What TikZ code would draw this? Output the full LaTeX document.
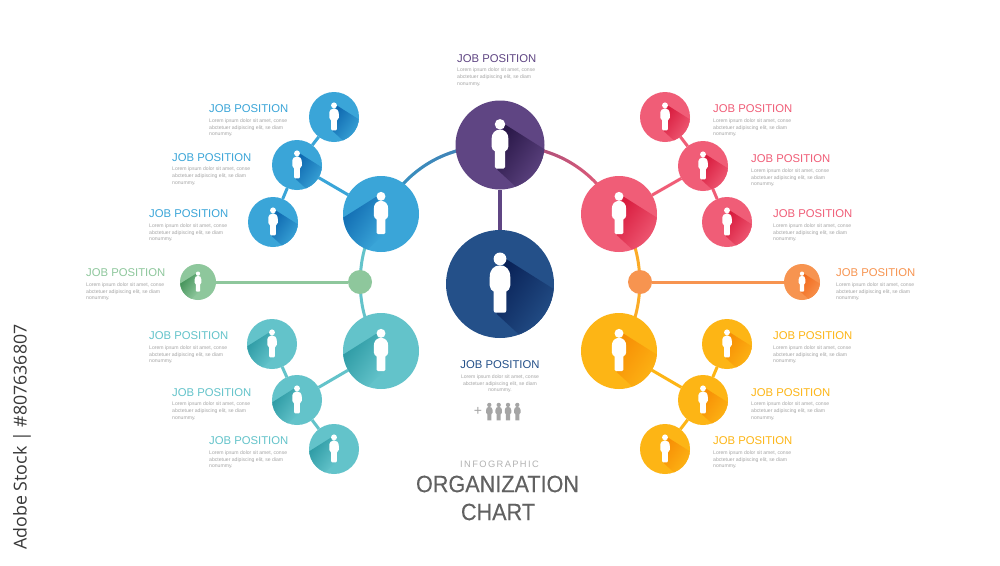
\documentclass[tikz,border=0pt]{standalone}
\usepackage{fontspec}
\setmainfont{Liberation Sans}
\newfontfamily\wmfont{Open Sans}
\newfontfamily\headfont[FakeStretch=0.92,FakeBold=0.3]{Liberation Sans}
\usetikzlibrary{fadings}
\pgfdeclarelayer{back}
\pgfsetlayers{back,main}
\definecolor{cpurple}{HTML}{5F4583}\definecolor{dpurple}{HTML}{2A1848}
\definecolor{cnavy}{HTML}{245089}\definecolor{dnavy}{HTML}{0A2358}
\definecolor{cblue}{HTML}{3AA5D8}\definecolor{dblue}{HTML}{0F69B0}
\definecolor{cpink}{HTML}{F05D77}\definecolor{dpink}{HTML}{D81C3E}
\definecolor{cteal}{HTML}{63C3CA}\definecolor{dteal}{HTML}{2A98A2}
\definecolor{cyel}{HTML}{FDB515}\definecolor{dyel}{HTML}{F78F05}
\definecolor{cgreen}{HTML}{8EC79C}\definecolor{dgreen}{HTML}{3F8F55}
\definecolor{corange}{HTML}{F79450}\definecolor{dorange}{HTML}{F26A1C}
\definecolor{cgrey}{HTML}{A5A5A5}
\tikzset{
  disc/.style={circle,inner sep=0pt,outer sep=0pt,draw=none},
  link/.style={line width=3pt},
  jobtitle/.style={anchor=west,inner sep=0pt,font=\fontsize{11.3}{13}\selectfont},
  jobbody/.style={anchor=north west,inner sep=0pt,align=left,text=cgrey,font=\fontsize{5.1}{6.7}\selectfont},
}
\newcommand\figbody{
  \fill[white] (0,-.465) circle[radius=.118];
  \fill[white] (0,-.345) .. controls (.11,-.345) and (.19,-.27) .. (.19,-.13) -- (.19,.03)
    .. controls (.19,.09) and (.15,.12) .. (.117,.14) -- (.117,.49)
    .. controls (.117,.52) and (.1,.53) .. (.08,.53) -- (-.08,.53)
    .. controls (-.1,.53) and (-.117,.52) .. (-.117,.49) -- (-.117,.14)
    .. controls (-.15,.12) and (-.19,.09) .. (-.19,.03) -- (-.19,-.13)
    .. controls (-.19,-.27) and (-.11,-.345) .. (0,-.345) -- cycle;
}
% name, x, y, r, base, dark, direction
\newcommand\pdisc[7]{
  \node[disc,fill=#5,minimum size=#4*2pt] (#1) at (#2,#3) {};
  \begin{scope}
    \clip (#1) circle[radius=#4];
    \begin{scope}[shift={(#2,#3)},xscale=#7*#4,yscale=#4]
      \shade[left color=#6,right color=#5,shading angle=55]
        (.09,-.476) -- (1.02,.11) -- (1.02,.7) -- (.4,.98) -- (-.06,.555) -- cycle;
    \end{scope}
  \end{scope}
  \begin{scope}[shift={(#2,#3)},xscale=#4,yscale=#4]
    \figbody
  \end{scope}
}
\newcommand\lab[4]{
  \node[jobtitle,text=#4] (t#1) at (#2,#3) {JOB POSITION};
  \node[jobbody] (b#1) at (#2,#3+9.5) {Lorem ipsum dolor sit amet, conse\\abctetuer adipiscing elit, se diam\\nonummy.};
}
\begin{document}
\begin{tikzpicture}[x=1pt,y=-1pt]
\useasboundingbox (0,0) rectangle (1000,565);
\begin{pgfonlayer}{back}
\fill[white] (0,0) rectangle (1000,565);
\end{pgfonlayer}
% hub discs
\pdisc{purple}{500}{145}{44.5}{cpurple}{dpurple}{1}
\pdisc{navy}{500}{284}{54}{cnavy}{dnavy}{1}
\pdisc{blueL}{381}{214}{38}{cblue}{dblue}{-1}
\pdisc{pinkL}{619}{214}{38}{cpink}{dpink}{1}
\pdisc{tealL}{381}{351}{38}{cteal}{dteal}{-1}
\pdisc{yelL}{619}{351}{38}{cyel}{dyel}{1}
% small discs
\pdisc{blueA}{334}{117}{25}{cblue}{dblue}{1}
\pdisc{blueB}{297}{165}{25}{cblue}{dblue}{1}
\pdisc{blueC}{273}{222}{25}{cblue}{dblue}{1}
\pdisc{pinkA}{665}{117}{25}{cpink}{dpink}{1}
\pdisc{pinkB}{703}{166}{25}{cpink}{dpink}{1}
\pdisc{pinkC}{727}{222}{25}{cpink}{dpink}{1}
\pdisc{tealA}{272}{344}{25}{cteal}{dteal}{-1}
\pdisc{tealB}{297}{400}{25}{cteal}{dteal}{-1}
\pdisc{tealC}{334}{449}{25}{cteal}{dteal}{-1}
\pdisc{yelA}{727}{344}{25}{cyel}{dyel}{1}
\pdisc{yelB}{703}{400}{25}{cyel}{dyel}{1}
\pdisc{yelC}{665}{449}{25}{cyel}{dyel}{1}
\pdisc{greenS}{198}{282}{18}{cgreen}{dgreen}{-1}
\pdisc{orangeS}{802}{282}{18}{corange}{dorange}{1}
\node[disc,fill=cgreen,minimum size=24pt] (gj) at (360,282) {};
\node[disc,fill=corange,minimum size=24pt] (oj) at (640,282) {};
% connectors
\begin{pgfonlayer}{back}
\draw[link,cblue] (blueL) -- (blueB);
\draw[link,cblue] (blueB) -- (blueA);
\draw[link,cblue] (blueB) -- (blueC);
\draw[link,cpink] (pinkL) -- (pinkB);
\draw[link,cpink] (pinkB) -- (pinkA);
\draw[link,cpink] (pinkB) -- (pinkC);
\draw[link,cteal] (tealL) -- (tealB);
\draw[link,cteal] (tealB) -- (tealA);
\draw[link,cteal] (tealB) -- (tealC);
\draw[link,cyel] (yelL) -- (yelB);
\draw[link,cyel] (yelB) -- (yelA);
\draw[link,cyel] (yelB) -- (yelC);
\draw[link,cgreen] (gj) -- (greenS);
\draw[link,corange] (oj) -- (orangeS);
\draw[link,cpurple,line width=3.5pt] (purple) -- (navy);
\draw[link,cteal] (blueL.center) to[bend right=15] (gj.center);
\draw[link,cteal] (gj.center) to[bend right=15] (tealL.center);
\draw[link,cyel!70!corange] (pinkL.center) to[bend left=15] (oj.center);
\draw[link,cyel!70!corange] (oj.center) to[bend left=15] (yelL.center);
\draw[link,color=cblue!90!black] (purple.center) to[bend right=30] (blueL.center);
\path[link,draw=cpurple!45!cblue,path fading=west] (purple.center) to[bend right=30] (blueL.center);
\draw[link,color=cpink] (purple.center) to[bend left=30] (pinkL.center);
\path[link,draw=cpurple!70!cpink,path fading=east] (purple.center) to[bend left=30] (pinkL.center);
\end{pgfonlayer}
% labels
\lab{p}{457}{58.5}{cpurple}
\lab{ba}{209}{109}{cblue}
\lab{bb}{172}{157.5}{cblue}
\lab{bc}{149}{214}{cblue}
\lab{g}{86}{273}{cgreen}
\lab{ta}{149}{336}{cteal}
\lab{tb}{172}{392.5}{cteal}
\lab{tc}{209}{441}{cteal}
\lab{pa}{713}{109}{cpink}
\lab{pb}{751}{159}{cpink}
\lab{pc}{773}{214}{cpink}
\lab{o}{836}{273}{corange}
\lab{ya}{773}{336}{cyel}
\lab{yb}{751}{392.5}{cyel}
\lab{yc}{713}{441}{cyel}
\node[jobtitle,anchor=center,text=cnavy] (tn) at (500,365) {JOB POSITION};
\node[jobbody,anchor=north,align=center] (bn) at (500,374.5) {Lorem ipsum dolor sit amet, conse\\abctetuer adipiscing elit, se diam\\nonummy.};
% group icon
\node[inner sep=0pt,text=cgrey,font=\fontsize{14}{14}\selectfont] (plus) at (478,411) {+};
\foreach \gx in {489.3,498.7,508,517.3}{
  \begin{scope}[shift={(\gx,412.2)},scale=15.5]
    \fill[cgrey] (0,-.47) circle[radius=.14];
    \fill[cgrey] (0,-.345) .. controls (.13,-.345) and (.21,-.27) .. (.21,-.14) -- (.21,.03)
      .. controls (.21,.09) and (.15,.12) .. (.13,.13) -- (.13,.53) -- (-.13,.53) -- (-.13,.13)
      .. controls (-.15,.12) and (-.21,.09) .. (-.21,.03) -- (-.21,-.14)
      .. controls (-.21,-.27) and (-.13,-.345) .. (0,-.345) -- cycle;
  \end{scope}
}
% heading
\node[inner sep=0pt,text=cgrey!85!white,font=\fontsize{9.3}{11}\selectfont\addfontfeature{LetterSpace=15}] (hi) at (499.5,464) {INFOGRAPHIC};
\node[inner sep=0pt,text=black!62,font=\headfont\fontsize{23.5}{26}\selectfont] (ho) at (497.5,484) {ORGANIZATION};
\node[inner sep=0pt,text=black!62,font=\headfont\fontsize{23.5}{26}\selectfont] (hc) at (498,512) {CHART};
% side credit
\node[inner sep=0pt,rotate=90,text=black!78,font=\wmfont\fontsize{17.8}{20}\selectfont] (wm) at (22,437) {Adobe Stock | \#807636807};
\end{tikzpicture}
\end{document}
